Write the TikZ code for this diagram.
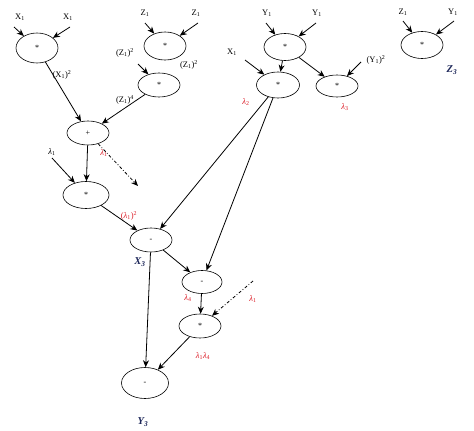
\documentclass[tikz,border=0pt]{standalone}
\usepackage{fontspec}
\setmainfont{Liberation Serif}
\usetikzlibrary{arrows.meta,shapes.geometric}
\definecolor{lamred}{RGB}{220,30,40}
\definecolor{outblue}{RGB}{30,40,90}
\begin{document}
\begin{tikzpicture}[x=1pt,y=-1pt]
    % Node styles
    \tikzstyle{none}=[inner sep=0mm, font=\fontsize{8.5}{9}\selectfont]
    \tikzstyle{red none}=[none, text=lamred]
    \tikzstyle{out none}=[inner sep=0mm, text=outblue, font=\fontsize{10.5}{11}\selectfont\bfseries\itshape]
    \tikzstyle{op}=[draw=black, semithick, shape=ellipse, minimum width=42pt, minimum height=26pt, inner sep=0mm, font=\fontsize{8}{8}\selectfont]
    % Edge styles
    \tikzstyle{arrow}=[-{Stealth[length=7pt,width=6pt]}, thick]
    \tikzstyle{dash arrow}=[arrow, dash dot]

    \useasboundingbox (0,0) rectangle (474,431);

    \node [style=op, minimum height=30pt] (0) at (37, 48) {*};
    \node [style=op, minimum height=28pt] (1) at (165, 46) {*};
    \node [style=op, minimum height=24pt] (2) at (159, 85) {*};
    \node [style=op, minimum height=24pt] (3) at (88, 133) {+};
    \node [style=op, minimum width=46pt, minimum height=27pt] (4) at (86, 195) {*};
    \node [style=op, minimum height=24pt] (5) at (151, 240) {-};
    \node [style=op, minimum width=40pt, minimum height=23pt] (6) at (202, 282) {-};
    \node [style=op, minimum height=24pt] (7) at (200, 326) {*};
    \node [style=op, minimum width=47pt, minimum height=31pt] (8) at (145, 383) {-};
    \node [style=op, minimum height=27pt] (9) at (285, 47) {*};
    \node [style=op, minimum width=43pt] (10) at (278, 85) {*};
    \node [style=op, minimum height=22pt] (11) at (337, 86) {*};
    \node [style=op, minimum height=27pt] (12) at (422, 45) {*};

    \node [style=none] (13) at (20, 17) {X\textsubscript{1}};
    \node [style=none] (14) at (68, 17) {X\textsubscript{1}};
    \node [style=none] (15) at (145, 13) {Z\textsubscript{1}};
    \node [style=none] (16) at (196, 13) {Z\textsubscript{1}};
    \node [style=none] (17) at (125, 53) {(Z\textsubscript{1})\textsuperscript{2}};
    \node [style=none] (18) at (189, 65) {(Z\textsubscript{1})\textsuperscript{2}};
    \node [style=none] (19) at (62, 75) {(X\textsubscript{1})\textsuperscript{2}};
    \node [style=none] (20) at (125, 100) {(Z\textsubscript{1})\textsuperscript{4}};
    \node [style=none] (21) at (232, 52) {X\textsubscript{1}};
    \node [style=none] (22) at (267, 13) {Y\textsubscript{1}};
    \node [style=none] (23) at (317, 13) {Y\textsubscript{1}};
    \node [style=none] (24) at (376, 60) {(Y\textsubscript{1})\textsuperscript{2}};
    \node [style=none] (25) at (403, 12) {Z\textsubscript{1}};
    \node [style=none] (26) at (453, 12) {Y\textsubscript{1}};
    \node [style=out none] (27) at (452, 70) {Z\textsubscript{3}};
    \node [style=red none] (28) at (246, 102) {\textit{λ}\textsubscript{2}};
    \node [style=red none] (29) at (345, 107) {\textit{λ}\textsubscript{3}};
    \node [style=none] (30) at (52, 152) {\textit{λ}\textsubscript{1}};
    \node [style=red none] (31) at (104, 153) {\textit{λ}\textsubscript{1}};
    \node [style=red none] (32) at (129, 216) {(\textit{λ}\textsubscript{1})\textsuperscript{2}};
    \node [style=out none] (33) at (140, 262) {X\textsubscript{3}};
    \node [style=red none] (34) at (188, 298) {\textit{λ}\textsubscript{4}};
    \node [style=red none] (35) at (253, 299) {\textit{λ}\textsubscript{1}};
    \node [style=red none] (36) at (203, 356) {\textit{λ}\textsubscript{1}\textit{λ}\textsubscript{4}};
    \node [style=out none] (37) at (143, 422) {Y\textsubscript{3}};

    \coordinate (40) at (14, 27);
    \coordinate (41) at (70, 27);
    \coordinate (42) at (145, 23);
    \coordinate (43) at (198, 23);
    \coordinate (44) at (138, 64);
    \coordinate (45) at (245, 60);
    \coordinate (46) at (266, 23);
    \coordinate (47) at (316, 23);
    \coordinate (48) at (361, 62);
    \coordinate (49) at (403, 21);
    \coordinate (50) at (454, 21);
    \coordinate (51) at (52, 158);
    \coordinate (52) at (138, 186);
    \coordinate (53) at (253, 281);

    \draw [style=arrow] (40) to (0);
    \draw [style=arrow] (41) to (0);
    \draw [style=arrow] (42) to (1);
    \draw [style=arrow] (43) to (1);
    \draw [style=arrow] (44) to (2);
    \draw [style=arrow] (0) to (3);
    \draw [style=arrow] (2) to (3);
    \draw [style=arrow] (3) to (4);
    \draw [style=arrow] (51) to (4);
    \draw [style=dash arrow] (3) to (52);
    \draw [style=arrow] (4) to (5);
    \draw [style=arrow] (46) to (9);
    \draw [style=arrow] (47) to (9);
    \draw [style=arrow] (9) to (10);
    \draw [style=arrow] (45) to (10);
    \draw [style=arrow] (9) to (11);
    \draw [style=arrow] (48) to (11);
    \draw [style=arrow] (49) to (12);
    \draw [style=arrow] (50) to (12);
    \draw [style=arrow] (10) to (5);
    \draw [style=arrow] (10) to (6);
    \draw [style=arrow] (5) to (6);
    \draw [style=arrow] (5) to (8);
    \draw [style=arrow] (6) to (7);
    \draw [style=dash arrow] (53) to (7);
    \draw [style=arrow] (7) to (8);
\end{tikzpicture}
\end{document}
